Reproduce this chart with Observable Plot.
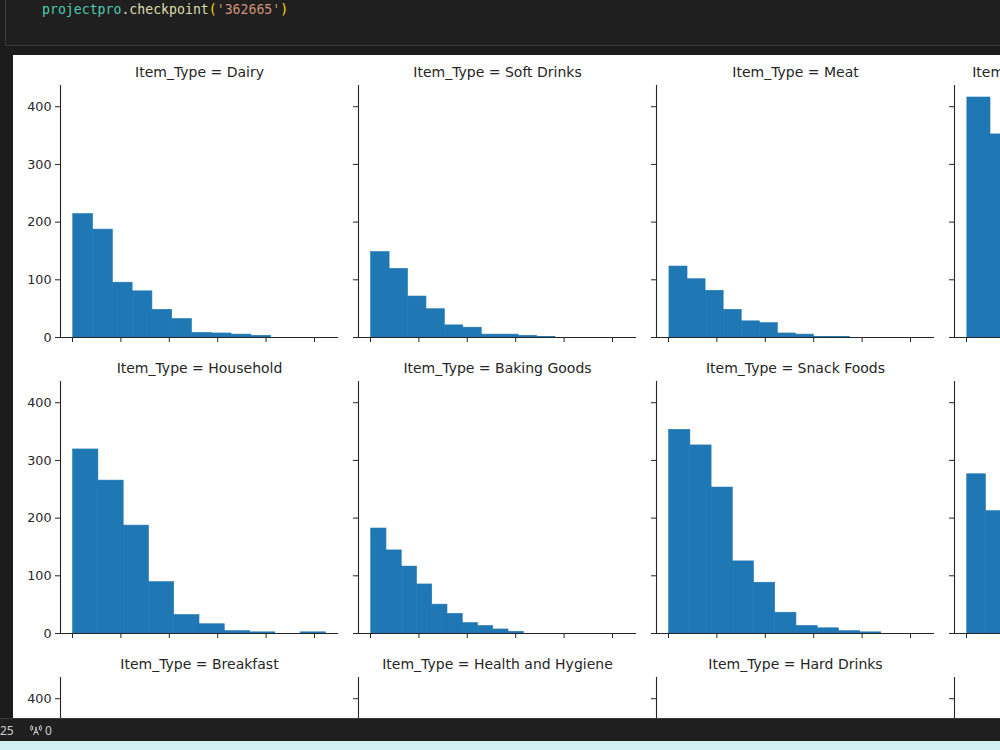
<!DOCTYPE html>
<html><head><meta charset="utf-8">
<script src="https://cdn.jsdelivr.net/npm/d3@7"></script>
<script src="https://cdn.jsdelivr.net/npm/@observablehq/plot@0.6"></script>
<style>
html,body{margin:0;padding:0;width:1000px;height:750px;overflow:hidden;background:#1c1c1c;}
#cell{position:absolute;left:5px;top:-2px;width:1000px;height:47px;border-left:1px solid #3a3a3a;border-bottom:1px solid #3a3a3a;background:#1f1f1f;}
#code{position:absolute;left:42px;top:2px;font:13.2px "DejaVu Sans Mono",monospace;color:#d4d4d4;white-space:pre;}
#out{position:absolute;left:13px;top:55px;width:987px;height:663px;background:#fff;overflow:hidden;}
.panel{position:absolute;}
#status{position:absolute;left:0;top:718px;width:1000px;height:23px;background:#1f1f1f;border-top:1px solid #3a3a3a;color:#cccccc;font:12px "Noto Sans",sans-serif;}
#status span{position:absolute;top:3px;}
#taskbar{position:absolute;left:0;top:741px;width:1000px;height:9px;background:#cff1f2;}
</style></head>
<body>
<div id="cell"></div>
<div id="code"><span style="color:#4ec9b0">projectpro</span>.<span style="color:#dcdcaa">checkpoint</span><span style="color:#ffd700">(</span><span style="color:#ce9178">'362665'</span><span style="color:#ffd700">)</span></div>
<div id="out"></div>
<div id="status"><span style="left:0">25</span><span style="left:30px"><svg width="12" height="12" viewBox="0 0 12 12" style="vertical-align:-1px"><path d="M6 5 L3.5 11 M6 5 L8.5 11 M4.5 8.5 L7.5 8.5 M3 2 Q1.5 4 3 6 M9 2 Q10.5 4 9 6 M1.5 1 Q-0.5 4 1.5 7 M10.5 1 Q12.5 4 10.5 7" stroke="#ccc" fill="none" stroke-width="1"/><circle cx="6" cy="4" r="1" fill="#ccc"/></svg> 0</span></div>
<div id="taskbar"></div>
<script>
// Facet categories (Item_Type), in the FacetGrid order (4 columns)
const itemTypes = ["Dairy", "Soft Drinks", "Meat", "Fruits and Vegetables",
                   "Household", "Baking Goods", "Snack Foods", "Frozen Foods",
                   "Breakfast", "Health and Hygiene", "Hard Drinks", "Canned"];
// Item_Outlet_Sales range of each facet (10 equal-width bins between them)
const salesMin = [40, 35, 50, 45, 33, 37, 35, 37, 39, 34, 37, 37];
const salesMax = [10260, 9555, 9380, 12000, 13087, 7917, 10990, 9700, 8210, 9800, 9250, 10300];
// Histogram counts (10 bins each)
const dairyCounts      = [214, 187, 95, 80, 48, 32, 8, 7, 5, 3];
const softDrinkCounts  = [148, 119, 71, 49, 21, 17, 5, 5, 3, 1];
const meatCounts       = [123, 101, 81, 48, 28, 25, 7, 5, 1, 1];
const fruitVegCounts   = [416, 352, 230, 120, 60, 30, 14, 6, 3, 1];
const householdCounts  = [319, 265, 187, 89, 32, 16, 4, 2, 0, 2];
const bakingCounts     = [182, 144, 116, 85, 50, 34, 18, 13, 7, 3];
const snackCounts      = [353, 326, 253, 125, 88, 36, 13, 9, 4, 2];
const frozenCounts     = [276, 212, 160, 100, 55, 30, 12, 6, 3, 2];
const breakfastCounts  = [30, 25, 20, 14, 10, 6, 3, 1, 0, 1];
const healthCounts     = [140, 120, 100, 70, 45, 25, 12, 5, 2, 1];
const hardDrinkCounts  = [60, 50, 40, 28, 18, 10, 5, 2, 0, 1];
const cannedCounts     = [200, 170, 120, 75, 45, 22, 10, 4, 2, 1];
const allCounts = [dairyCounts, softDrinkCounts, meatCounts, fruitVegCounts,
                   householdCounts, bakingCounts, snackCounts, frozenCounts,
                   breakfastCounts, healthCounts, hardDrinkCounts, cannedCounts];
// Axis ticks
const xTicks = [0, 2500, 5000, 7500, 10000, 12500];
const yTicks = [0, 100, 200, 300, 400];

// shared limits as matplotlib would compute (5% margins)
const gMin = 33.29, gMax = 13086.97;
const xPad = 0.05 * (gMax - gMin);
const xDomain = [gMin - xPad, gMax + xPad];
const yDomain = [0, d3.max(allCounts.flat()) * 1.05];

const INK = "#262626";
const out = document.getElementById("out");

itemTypes.forEach((name, i) => {
  const r = Math.floor(i / 4), c = i % 4;
  const cnt = allCounts[i];
  const bw = (salesMax[i] - salesMin[i]) / cnt.length;
  const bins = cnt.map((n, k) => ({x1: salesMin[i] + k * bw, x2: salesMin[i] + (k + 1) * bw, n}));
  const svg = Plot.plot({
    width: 328, height: 290,
    marginLeft: 47, marginRight: 3, marginTop: 30, marginBottom: 8,
    x: {domain: xDomain, label: null},
    y: {domain: yDomain, label: null},
    style: {fontFamily: "DejaVu Sans", color: INK, background: "transparent", overflow: "visible"},
    marks: [
      Plot.rectY(bins, {x1: "x1", x2: "x2", y: "n", fill: "#1f77b4", stroke: "#1f77b4", strokeWidth: 0.6}),
      Plot.axisY({ticks: yTicks, tickSize: 5, tickPadding: 4, fontSize: 12.7,
                  stroke: INK, fill: INK, label: null,
                  tickFormat: c === 0 ? (d => String(d)) : (() => "")}),
      Plot.axisX({ticks: xTicks, tickSize: 5, tickPadding: 4, fontSize: 12.7,
                  stroke: INK, fill: INK, label: null, tickFormat: () => ""}),
      Plot.ruleX([xDomain[0]], {stroke: INK, strokeWidth: 1.1}),
      Plot.ruleY([0], {stroke: INK, strokeWidth: 1.1}),
      Plot.text([`Item_Type = ${name}`], {frameAnchor: "top", dy: -9, lineAnchor: "bottom",
                  fontSize: 14, fill: INK})
    ]
  });
  svg.classList.add("panel");
  svg.style.left = (298 * c) + "px";
  svg.style.top = (296 * r) + "px";
  out.appendChild(svg);
});
</script>
</body></html>
